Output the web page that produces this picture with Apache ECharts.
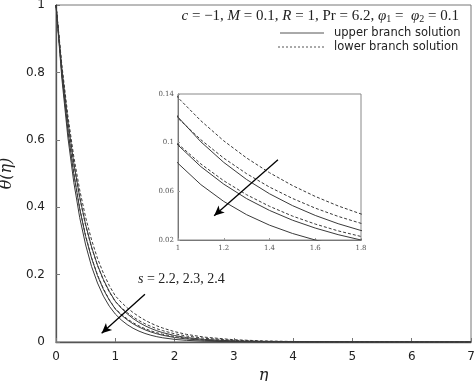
<!DOCTYPE html>
<html>
<head>
<meta charset="utf-8">
<script src="https://cdn.jsdelivr.net/npm/echarts@6/dist/echarts.min.js"></script>
<style>html,body{margin:0;padding:0;background:#fff}#c{width:474px;height:381px}</style>
</head>
<body>
<div id="c"></div>
<script>
// η grid
var eta = [0, 0.1, 0.2, 0.3, 0.4, 0.5, 0.6, 0.7, 0.8, 0.9, 1.0, 1.1, 1.2, 1.3, 1.4, 1.5, 1.6, 1.7, 1.8, 2.0, 2.2, 2.5, 3.0, 3.5, 4.0, 5.0, 6.0, 7.0];
// upper branch (solid)
var upper1 = [1, 0.810, 0.656, 0.531, 0.430, 0.348, 0.282, 0.228, 0.185, 0.150, 0.121, 0.1007, 0.0838, 0.0697, 0.0580, 0.0483, 0.0402, 0.0334, 0.0278, 0.0192, 0.0133, 0.0077, 0.0031, 0.0012, 0.0005, 0.0001, 0, 0];
var upper2 = [1, 0.793, 0.629, 0.499, 0.395, 0.313, 0.249, 0.197, 0.156, 0.124, 0.098, 0.0803, 0.0659, 0.0540, 0.0443, 0.0363, 0.0298, 0.0244, 0.0200, 0.0134, 0.0090, 0.0050, 0.0018, 0.0007, 0.0003, 0, 0, 0];
var upper3 = [1, 0.780, 0.608, 0.474, 0.369, 0.288, 0.224, 0.175, 0.136, 0.106, 0.083, 0.0655, 0.0517, 0.0408, 0.0322, 0.0254, 0.0200, 0.0158, 0.0125, 0.0078, 0.0049, 0.0024, 0.0007, 0.0002, 0.0001, 0, 0, 0];
// lower branch (dashed)
var lower1 = [1, 0.820, 0.672, 0.550, 0.451, 0.370, 0.303, 0.248, 0.204, 0.167, 0.137, 0.118, 0.1015, 0.0874, 0.0753, 0.0648, 0.0558, 0.0480, 0.0414, 0.0307, 0.0227, 0.0145, 0.0068, 0.0032, 0.0015, 0.0003, 0.0001, 0];
var lower2 = [1, 0.809, 0.654, 0.529, 0.428, 0.346, 0.280, 0.227, 0.183, 0.148, 0.120, 0.1024, 0.0873, 0.0745, 0.0635, 0.0542, 0.0462, 0.0394, 0.0337, 0.0245, 0.0178, 0.0111, 0.0050, 0.0023, 0.0010, 0.0002, 0, 0];
var lower3 = [1, 0.794, 0.630, 0.500, 0.397, 0.315, 0.250, 0.199, 0.158, 0.125, 0.099, 0.0825, 0.0687, 0.0572, 0.0477, 0.0397, 0.0331, 0.0275, 0.0229, 0.0159, 0.0110, 0.0064, 0.0025, 0.0010, 0.0004, 0.0001, 0, 0];

// arrow end points (data coordinates): main plot and inset
var mainArrow = [[1.50, 0.1415], [0.77, 0.026]];
var insetArrow = [[1.437, 0.086], [1.158, 0.040]];

var upperSets = [upper1, upper2, upper3];
var lowerSets = [lower1, lower2, lower3];

function pairs(v) { return eta.map(function (e, i) { return [e, v[i]]; }); }
function arrowML(a, z) {
  return { silent: true, z: z, symbol: ['none', 'arrow'], symbolSize: [7, 10], label: { show: false },
    emphasis: { disabled: true },
    lineStyle: { color: '#000', width: 1.3, type: 'solid' },
    data: [[{ coord: a[0] }, { coord: a[1] }]] };
}

var series = [];
[0, 1].forEach(function (g) {
  upperSets.forEach(function (v, k) {
    var s = { type: 'line', xAxisIndex: g, yAxisIndex: g, data: pairs(v), showSymbol: false, smooth: false, clip: true, z: 3 + g * 10,
      lineStyle: { color: '#3a3a3a', width: 1, type: 'solid' } };
    if (k === 0) s.markLine = arrowML(g === 0 ? mainArrow : insetArrow, g === 0 ? 5 : 30);
    series.push(s);
  });
  lowerSets.forEach(function (v) {
    series.push({ type: 'line', xAxisIndex: g, yAxisIndex: g, data: pairs(v), showSymbol: false, smooth: false, clip: true, z: 3 + g * 10,
      lineStyle: { color: '#3a3a3a', width: 1, type: [3, 2] } });
  });
});

var chart = echarts.init(document.getElementById('c'), null, { renderer: 'canvas' });
chart.setOption({
  animation: false,
  backgroundColor: '#fff',
  grid: [
    { left: 56, top: 5, width: 415, height: 337, containLabel: false, outerBoundsMode: 'none', show: true, borderColor: '#777', borderWidth: 1, z: 0 },
    { left: 178, top: 94, width: 183, height: 146, containLabel: false, outerBoundsMode: 'none', show: true, borderColor: '#888', borderWidth: 1, backgroundColor: '#fff', z: 10 }
  ],
  xAxis: [
    { type: 'value', gridIndex: 0, min: 0, max: 7, interval: 1,
      name: 'η', nameLocation: 'middle', nameGap: 23,
      nameTextStyle: { fontFamily: 'DejaVu Serif', fontStyle: 'italic', fontSize: 16, color: '#222' },
      axisLine: { lineStyle: { color: '#555', width: 1.3 } },
      axisTick: { inside: true, length: 4, lineStyle: { color: '#777' } },
      axisLabel: { fontFamily: 'DejaVu Sans', fontSize: 12, color: '#222', margin: 9 },
      splitLine: { show: false } },
    { type: 'value', gridIndex: 1, min: 1, max: 1.8, interval: 0.2, z: 11,
      axisLine: { lineStyle: { color: '#777' } },
      axisTick: { inside: true, length: 2, lineStyle: { color: '#999' } },
      axisLabel: { fontFamily: 'DejaVu Serif', fontSize: 7, color: '#555', margin: 5 },
      splitLine: { show: false } }
  ],
  yAxis: [
    { type: 'value', gridIndex: 0, min: 0, max: 1, interval: 0.2,
      name: 'θ(η)', nameLocation: 'middle', nameGap: 31, nameRotate: 90,
      nameTextStyle: { fontFamily: 'DejaVu Serif', fontStyle: 'italic', fontSize: 16, color: '#222' },
      axisLine: { lineStyle: { color: '#555', width: 1.3 } },
      axisTick: { inside: true, length: 4, lineStyle: { color: '#777' } },
      axisLabel: { fontFamily: 'DejaVu Sans', fontSize: 12, color: '#222', margin: 11 },
      splitLine: { show: false } },
    { type: 'value', gridIndex: 1, min: 0.02, max: 0.14, interval: 0.04, z: 11,
      axisLine: { lineStyle: { color: '#777' } },
      axisTick: { inside: true, length: 2, lineStyle: { color: '#999' } },
      axisLabel: { fontFamily: 'DejaVu Serif', fontSize: 7, color: '#555', margin: 4 },
      splitLine: { show: false } }
  ],
  graphic: [
    { type: 'text', right: 15, top: 9, z: 50,
      style: { text: '{i|c} = −1, {i|M} = 0.1, {i|R} = 1, Pr = 6.2, {i|φ}{s|1} =  {i|φ}{s|2} = 0.1',
        font: '15px "Liberation Serif"', fill: '#222',
        rich: { i: { fontStyle: 'italic', fontFamily: 'Liberation Serif', fontSize: 15 }, s: { fontSize: 10, fontFamily: 'Liberation Serif', padding: [6, 0, 0, 0] } } } },
    { type: 'line', shape: { x1: 280, y1: 33, x2: 324, y2: 33 }, style: { stroke: '#555', lineWidth: 1 }, z: 50 },
    { type: 'line', shape: { x1: 278, y1: 47, x2: 324, y2: 47 }, style: { stroke: '#555', lineWidth: 1, lineDash: [2, 2] }, z: 50 },
    { type: 'text', left: 334, top: 27, z: 50, style: { text: 'upper branch solution', font: '11.5px "DejaVu Sans"', fill: '#222' } },
    { type: 'text', left: 334, top: 41, z: 50, style: { text: 'lower branch solution', font: '11.5px "DejaVu Sans"', fill: '#222' } },
    { type: 'text', left: 138, top: 272, z: 50,
      style: { text: '{i|s} = 2.2, 2.3, 2.4', font: '14px "Liberation Serif"', fill: '#222',
        rich: { i: { fontStyle: 'italic', fontFamily: 'Liberation Serif', fontSize: 14 } } } }
  ],
  series: series
});
</script>
</body>
</html>
